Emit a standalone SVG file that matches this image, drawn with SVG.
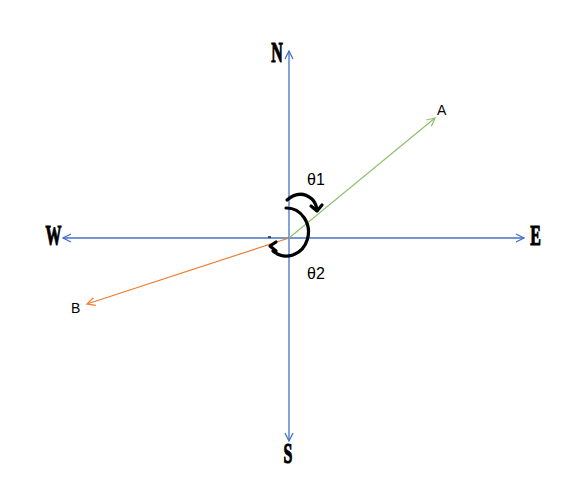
<svg xmlns="http://www.w3.org/2000/svg" width="570" height="478" viewBox="0 0 570 478">
<defs>
<style>
.ax{stroke:#4472C4;stroke-width:1.3;fill:none}
.dir{font-family:"Liberation Serif",serif;font-weight:bold;font-size:29px;fill:#000;stroke:#000;stroke-width:1.2;text-anchor:middle}
.lbl{font-family:"Liberation Sans","Open Sans",sans-serif;font-size:14px;fill:#000}
.th{font-size:16px}
.rot{stroke:#000;stroke-width:3.2;fill:none;stroke-linecap:round;stroke-linejoin:round}
</style>
<marker id="ab" viewBox="0 0 10 10" refX="9" refY="5" markerWidth="10" markerHeight="10" markerUnits="userSpaceOnUse" orient="auto"><path d="M1,1 L9,5 L1,9" fill="none" stroke="#4472C4" stroke-width="1.3"/></marker>
<marker id="ag" viewBox="0 0 10 10" refX="9" refY="5" markerWidth="10" markerHeight="10" markerUnits="userSpaceOnUse" orient="auto"><path d="M1,1 L9,5 L1,9" fill="none" stroke="#8cbf6a" stroke-width="1.2"/></marker>
<marker id="ao" viewBox="0 0 10 10" refX="9" refY="5" markerWidth="10" markerHeight="10" markerUnits="userSpaceOnUse" orient="auto"><path d="M1,1 L9,5 L1,9" fill="none" stroke="#ED7D31" stroke-width="1.2"/></marker>
</defs>
<rect width="570" height="478" fill="#fff"/>
<g id="connectors">
<line class="ax" x1="289" y1="238" x2="289" y2="51" marker-end="url(#ab)"/>
<line class="ax" x1="289" y1="238" x2="289" y2="441" marker-end="url(#ab)"/>
<line class="ax" x1="289" y1="238" x2="524" y2="238" marker-end="url(#ab)"/>
<line class="ax" x1="289" y1="238" x2="63" y2="238" marker-end="url(#ab)"/>
<line x1="289" y1="238" x2="435" y2="118" stroke="#8cbf6a" stroke-width="1.1" marker-end="url(#ag)"/>
<line x1="289" y1="238" x2="87" y2="304" stroke="#ED7D31" stroke-width="1.2" marker-end="url(#ao)"/>
<line x1="268" y1="237" x2="271" y2="237" stroke="#222" stroke-width="1.5"/>
</g>
<g id="theta1-arc">
<path class="rot" d="M287,200 Q300,189 312,199 Q316,203 317,210"/>
<polyline class="rot" points="311,206 317,211 322,205"/>
</g>
<g id="theta2-arc">
<path class="rot" d="M286,208 A22,24 0 1 1 273,251"/>
<polyline class="rot" points="276,242 270,246 276,251"/>
</g>
<g id="N"><text class="dir" transform="translate(277,62) scale(0.55,1)">N</text></g>
<g id="S"><text class="dir" transform="translate(288,463) scale(0.55,1)">S</text></g>
<g id="E"><text class="dir" transform="translate(535.5,245) scale(0.55,1)">E</text></g>
<g id="W"><text class="dir" transform="translate(53.5,245) scale(0.55,1)">W</text></g>
<g id="A"><text class="lbl" x="437" y="115">A</text></g>
<g id="B"><text class="lbl" x="71" y="313">B</text></g>
<g id="theta1"><text class="lbl th" x="307" y="185">θ1</text></g>
<g id="theta2"><text class="lbl th" x="307" y="279">θ2</text></g>
</svg>
